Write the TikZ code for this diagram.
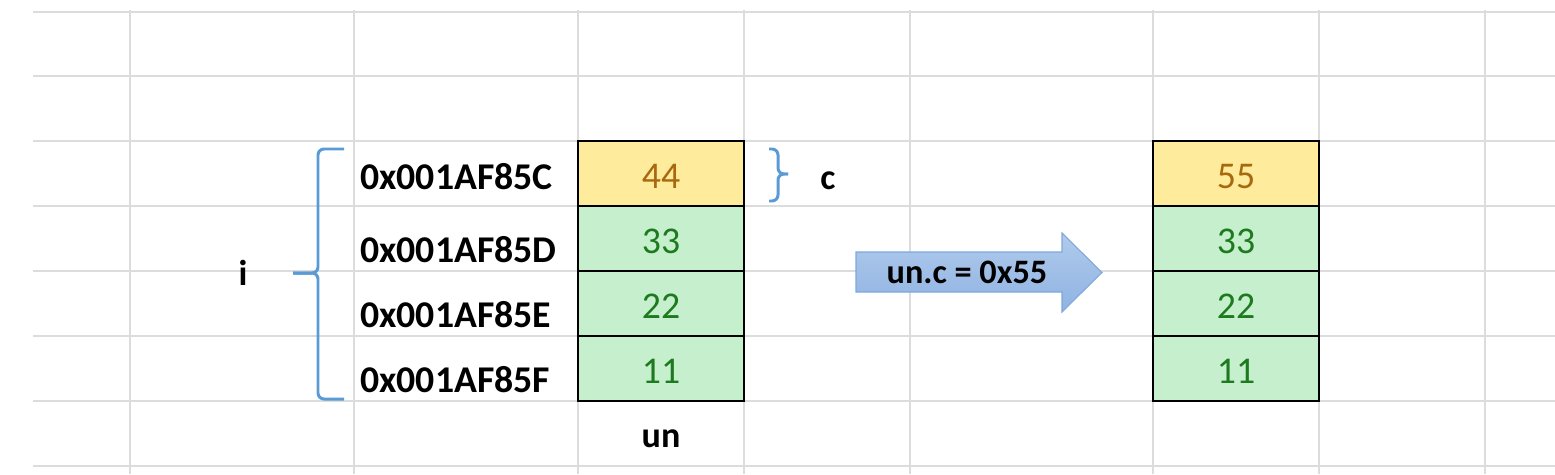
\documentclass[tikz,border=0pt]{standalone}
\usepackage{fontspec}
\setmainfont{Carlito}
\usepackage{tikz}
\usetikzlibrary{positioning, calc}
\definecolor{luoi}{HTML}{DCDCDC}
\definecolor{vangnen}{HTML}{FFEB9C}
\definecolor{vangchu}{HTML}{A8680F}
\definecolor{xanhnen}{HTML}{C6EFCE}
\definecolor{xanhchu}{HTML}{1E7A1E}
\definecolor{ngoacxanh}{HTML}{5B9BD5}
\definecolor{muitren}{HTML}{B0CAEC}
\definecolor{muiduoi}{HTML}{8FB3E2}
\definecolor{muivien}{HTML}{7FA7DC}

\begin{document}
\begin{tikzpicture}[x=0.02cm, y=-0.02cm,
    o/.style={draw=black, line width=1.4pt, minimum width=3.32cm, minimum height=1.3cm,
      inner sep=0pt, outer sep=0pt, text height=17.6pt, text depth=0pt,
      font=\fontsize{21.5}{26}\selectfont},
    ovang/.style={o, fill=vangnen, text=vangchu},
    oxanh/.style={o, fill=xanhnen, text=xanhchu},
    diachi/.style={anchor=base west, inner sep=0pt, font=\bfseries\fontsize{21.5}{26}\selectfont},
    nhan/.style={inner sep=0pt, font=\bfseries\fontsize{20.5}{25}\selectfont},
    ngoac/.style={draw=ngoacxanh, line width=1.7pt, rounded corners=3.4pt}]

            \useasboundingbox (0,0) rectangle (1555,474);

            % Vẽ lưới ô
            \foreach \y in {12,76,141,206,271,336,401,466}
              \draw[luoi, line width=0.8pt] (33,\y) -- (1555,\y);
            \foreach \x in {130,354,578,744,910,1153,1319,1485}
              \draw[luoi, line width=0.8pt] (\x,10) -- (\x,474);

            % Bảng bên trái
            \node[ovang] (a1) at (661,173.5) {44};
            \node[oxanh, below=0pt of a1] (a2) {33};
            \node[oxanh, below=0pt of a2] (a3) {22};
            \node[oxanh, below=0pt of a3] (a4) {11};

            % Bảng bên phải
            \node[ovang] (b1) at (1236,173.5) {55};
            \node[oxanh, below=0pt of b1] (b2) {33};
            \node[oxanh, below=0pt of b2] (b3) {22};
            \node[oxanh, below=0pt of b3] (b4) {11};

            % Địa chỉ
            \node[diachi] (d1) at (360,189) {0x001AF85C};
            \node[diachi] (d2) at (360,262) {0x001AF85D};
            \node[diachi] (d3) at (360,327) {0x001AF85E};
            \node[diachi] (d4) at (360,392) {0x001AF85F};

            % Dấu ngoặc
            \draw[ngoac] (344,149) -- (318,149) -- (318,273) -- (293,273); % ngoặc i, nửa trên
            \draw[ngoac] (344,399) -- (318,399) -- (318,273) -- (293,273); % ngoặc i, nửa dưới
            \draw[ngoac] (769,149) -- (778,149) -- (778,174) -- (788,174); % ngoặc c, nửa trên
            \draw[ngoac] (769,201) -- (778,201) -- (778,174) -- (788,174); % ngoặc c, nửa dưới

            % Nhãn
            \node[nhan] (i) at (243,273) {i};
            \node[nhan, anchor=base] (c) at (828,189) {c};
            \node[nhan, anchor=base] (un) at (661,447) {un};

            % Mũi tên
            \shade[top color=muitren, bottom color=muiduoi, draw=muivien, line width=0.6pt]
              (856,252) -- (1062,252) -- (1062,233) -- (1102,272.5) -- (1062,312)
              -- (1062,292) -- (856,292) -- cycle;
            \node[nhan, anchor=base, font=\bfseries\fontsize{19.5}{23}\selectfont] (lenh) at (967,283) {un.c = 0x55};

\end{tikzpicture}
\end{document}
